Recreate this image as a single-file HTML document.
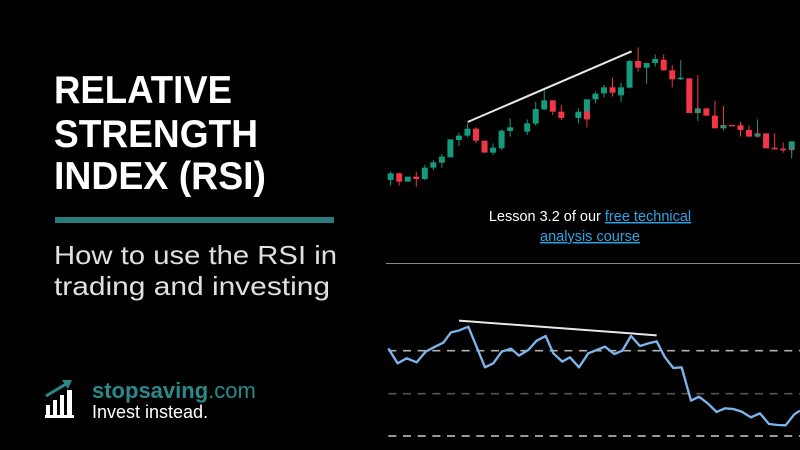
<!DOCTYPE html>
<html><head><meta charset="utf-8"><style>
html,body{margin:0;padding:0;background:#000;}
svg{display:block}
</style></head><body>
<svg width="800" height="450" viewBox="0 0 800 450" xmlns="http://www.w3.org/2000/svg">
<rect width="800" height="450" fill="#000"/>
<g font-family="Liberation Sans, sans-serif">
<text x="54" y="103" fill="#fff" font-size="39" font-weight="bold" textLength="178" lengthAdjust="spacingAndGlyphs">RELATIVE</text>
<text x="54" y="147" fill="#fff" font-size="39" font-weight="bold" textLength="204" lengthAdjust="spacingAndGlyphs">STRENGTH</text>
<text x="54" y="189" fill="#fff" font-size="39" font-weight="bold" textLength="212" lengthAdjust="spacingAndGlyphs">INDEX (RSI)</text>
<rect x="55" y="217" width="279" height="6" fill="#2a7b7b"/>
<text x="54" y="264" fill="#e0e0e0" font-size="26" textLength="283" lengthAdjust="spacingAndGlyphs">How to use the RSI in</text>
<text x="54" y="295" fill="#e0e0e0" font-size="26" textLength="276" lengthAdjust="spacingAndGlyphs">trading and investing</text>
<text x="92" y="398" fill="#2a8a8a" font-size="22" font-weight="bold">stopsaving<tspan font-weight="normal">.com</tspan></text>
<text x="92" y="418" fill="#fff" font-size="18">Invest instead.</text>
<text x="590" y="221" fill="#fff" font-size="14.5" text-anchor="middle">Lesson 3.2 of our <tspan fill="#2aa6e6" text-decoration="underline">free technical</tspan></text>
<text x="590" y="241" fill="#2aa6e6" font-size="14.5" text-anchor="middle" text-decoration="underline">analysis course</text>
</g>
<g fill="#fff">
<rect x="46" y="405" width="4" height="10"/>
<rect x="53" y="400" width="4" height="15"/>
<rect x="60" y="395" width="4" height="20"/>
<rect x="67" y="390" width="5" height="25"/>
<rect x="45" y="415" width="29" height="3"/>
</g>
<path d="M46 396 L66 384" stroke="#2a8a8a" stroke-width="3"/>
<polygon points="62,380 72,380 68,389" fill="#2a8a8a"/>
<line x1="386" y1="263.5" x2="800" y2="263.5" stroke="#8a8a8a" stroke-width="1"/>
<g transform="translate(385,40) scale(0.3333)">
<g fill="#169a7d" stroke="#169a7d" stroke-width="3">
<path d="M17 395V437M119.4 375V420M145 360V390M170.6 342V383M221.8 278V318M247.4 250V292M324.2 310V345M349.8 268V330M375.4 235V290M426.6 238V285M452.2 185V257M477.8 148V210M580.2 205V250M631.4 155V190M657 135V172M708.2 128V186M733.8 60V145M785 69V131M810.6 43V80M887.4 60V120M938.6 198V243M1015.4 235V272M1117.8 238V292M1220.2 304V355"/>
<rect stroke="none" x="8" y="400" width="18" height="20"/>
<rect stroke="none" x="59.2" y="410" width="18" height="15"/>
<rect stroke="none" x="110.4" y="383" width="18" height="34"/>
<rect stroke="none" x="136" y="367" width="18" height="16"/>
<rect stroke="none" x="161.6" y="350" width="18" height="18"/>
<rect stroke="none" x="187.2" y="298" width="18" height="54"/>
<rect stroke="none" x="212.8" y="287" width="18" height="13"/>
<rect stroke="none" x="238.4" y="266" width="18" height="21"/>
<rect stroke="none" x="315.2" y="323" width="18" height="15"/>
<rect stroke="none" x="340.8" y="272" width="18" height="53"/>
<rect stroke="none" x="366.4" y="262" width="18" height="11"/>
<rect stroke="none" x="417.6" y="250" width="18" height="25"/>
<rect stroke="none" x="443.2" y="207" width="18" height="44"/>
<rect stroke="none" x="468.8" y="181" width="18" height="27"/>
<rect stroke="none" x="571.2" y="215" width="18" height="19"/>
<rect stroke="none" x="596.8" y="178" width="18" height="60"/>
<rect stroke="none" x="622.4" y="161" width="18" height="17"/>
<rect stroke="none" x="648" y="142" width="18" height="18"/>
<rect stroke="none" x="699.2" y="142" width="18" height="24"/>
<rect stroke="none" x="724.8" y="63" width="18" height="80"/>
<rect stroke="none" x="776" y="69" width="18" height="14"/>
<rect stroke="none" x="801.6" y="57" width="18" height="12"/>
<rect stroke="none" x="878.4" y="113" width="18" height="5"/>
<rect stroke="none" x="929.6" y="205" width="18" height="14"/>
<rect stroke="none" x="1006.4" y="255" width="18" height="10"/>
<rect stroke="none" x="1108.8" y="280" width="18" height="10"/>
<rect stroke="none" x="1211.2" y="304" width="18" height="26"/>
</g>
<g fill="#f23645" stroke="#f23645" stroke-width="3">
<path d="M42.6 398V437M93.8 395V440M273 262V310M503.4 181V225M529 195V240M605.8 210V262M682.6 113V170M759.4 22V95M836.2 43V91M861.8 75V142M938.6 105V222M989.8 182V235M1015.4 198V265M1066.6 245V290M1092.2 256V282M1117.8 266V292M1169 280V327M1194.6 307V338M1220.2 318V340"/>
<rect stroke="none" x="33.6" y="400" width="18" height="25"/>
<rect stroke="none" x="84.8" y="410" width="18" height="7"/>
<rect stroke="none" x="264" y="266" width="18" height="36"/>
<rect stroke="none" x="289.6" y="302" width="18" height="36"/>
<rect stroke="none" x="494.4" y="181" width="18" height="34"/>
<rect stroke="none" x="520" y="215" width="18" height="19"/>
<rect stroke="none" x="596.8" y="215" width="18" height="23"/>
<rect stroke="none" x="673.6" y="142" width="18" height="16"/>
<rect stroke="none" x="750.4" y="63" width="18" height="20"/>
<rect stroke="none" x="827.2" y="59" width="18" height="32"/>
<rect stroke="none" x="852.8" y="91" width="18" height="27"/>
<rect stroke="none" x="904" y="115" width="18" height="104"/>
<rect stroke="none" x="955.2" y="205" width="18" height="22"/>
<rect stroke="none" x="980.8" y="227" width="18" height="38"/>
<rect stroke="none" x="1032" y="255" width="18" height="4"/>
<rect stroke="none" x="1057.6" y="256" width="18" height="14"/>
<rect stroke="none" x="1083.2" y="270" width="18" height="20"/>
<rect stroke="none" x="1134.4" y="280" width="18" height="45"/>
<rect stroke="none" x="1160" y="323" width="18" height="5"/>
<rect stroke="none" x="1185.6" y="326" width="18" height="5"/>
</g>
<line x1="248" y1="246" x2="740" y2="34" stroke="#e8e8e8" stroke-width="6"/>
</g>
<g transform="translate(385,300) scale(0.3333)">
<g stroke-width="5" stroke-dasharray="24 20">
<line x1="10" y1="152" x2="1245" y2="152" stroke="#b0b0b0"/>
<line x1="10" y1="281" x2="1245" y2="281" stroke="#555"/>
<line x1="10" y1="408" x2="1245" y2="408" stroke="#b0b0b0"/>
</g>
<line x1="222" y1="62" x2="815" y2="106" stroke="#e8e8e8" stroke-width="6"/>
<polyline fill="none" stroke="#7cb5ec" stroke-width="7" stroke-linejoin="round" points="10,145 38,190 65,175 95,187 122,155 150,140 175,128 198,97 220,92 250,80 300,202 325,190 350,155 378,146 402,167 430,150 455,122 482,108 505,160 532,185 555,172 582,202 610,160 635,150 660,140 688,162 712,152 738,108 765,138 790,130 815,124 840,172 865,204 890,202 918,302 942,290 968,310 995,336 1020,325 1045,327 1070,335 1098,352 1125,340 1152,372 1178,375 1202,376 1228,343 1245,332"/>
</g>
</svg>
</body></html>
